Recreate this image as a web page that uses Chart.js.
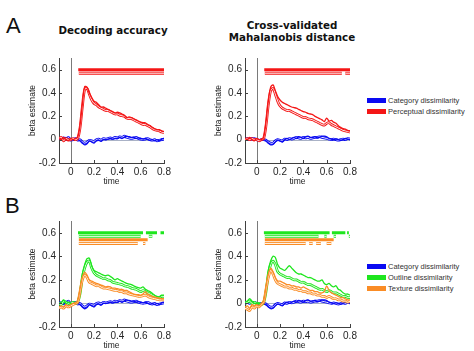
<!DOCTYPE html>
<html>
<head>
<meta charset="utf-8">
<script src="https://cdn.jsdelivr.net/npm/chart.js@4.4.1/dist/chart.umd.min.js"></script>
<style>
  body { margin: 0; background: #fff; }
  #fig { position: relative; width: 474px; height: 351px; overflow: hidden; font-family: "Liberation Sans", Arial, sans-serif; }
  canvas { position: absolute; }
  .letter { position: absolute; font-size: 22px; line-height: 22px; color: #111; }
  .title { position: absolute; font-family: "DejaVu Sans", sans-serif; font-weight: bold; font-size: 10.3px; line-height: 12.4px; text-align: center; color: #111; white-space: nowrap; }
  .legend-row { position: absolute; left: 367px; height: 10px; font-size: 7.5px; line-height: 10px; color: #333; white-space: nowrap; }
  .swatch { display: inline-block; width: 19px; height: 5px; vertical-align: middle; margin-right: 2px; position: relative; top: -1px; }
</style>
</head>
<body>
<div id="fig">
  <div class="letter" style="left:6px; top:14.5px;">A</div>
  <div class="letter" style="left:5px; top:194.7px;">B</div>
  <div class="title" style="left:53px; width:120px; top:24px;">Decoding accuracy</div>
  <div class="title" style="left:222px; width:140px; top:18.5px;">Cross-validated<br>Mahalanobis distance</div>

  <canvas id="decA" width="162" height="142" style="left:14px; top:50px;"></canvas>
  <canvas id="mahA" width="162" height="142" style="left:200px; top:50px;"></canvas>
  <canvas id="decB" width="162" height="138" style="left:14px; top:213px;"></canvas>
  <canvas id="mahB" width="162" height="138" style="left:200px; top:213px;"></canvas>

  <div id="legendA"></div>
  <div id="legendB"></div>
</div>

<script>
// time axis (s) and tick labels
const times = [-0.1, -0.08, -0.06, -0.04, -0.02, 0, 0.02, 0.04, 0.06, 0.08,
  0.1, 0.12, 0.14, 0.16, 0.18, 0.2, 0.22, 0.24, 0.26, 0.28,
  0.3, 0.32, 0.34, 0.36, 0.38, 0.4, 0.42, 0.44, 0.46, 0.48,
  0.5, 0.52, 0.54, 0.56, 0.58, 0.6, 0.62, 0.64, 0.66, 0.68,
  0.7, 0.72, 0.74, 0.76, 0.78, 0.8];
const xTicks = [0, 0.2, 0.4, 0.6, 0.8];
const yTicks = [-0.2, 0, 0.2, 0.4, 0.6];

// A - decoding accuracy
const decPerc1 = [0.01, 0.0, 0.02, 0.0, -0.01, 0.01, 0.0, 0.01, 0.02, 0.12,
  0.3, 0.455, 0.45, 0.40, 0.36, 0.33, 0.32, 0.30, 0.28, 0.28,
  0.27, 0.26, 0.25, 0.24, 0.23, 0.235, 0.23, 0.22, 0.21, 0.19,
  0.195, 0.19, 0.18, 0.17, 0.16, 0.15, 0.145, 0.145, 0.13, 0.12,
  0.105, 0.095, 0.085, 0.085, 0.075, 0.07];
const decPerc2 = [0.01, 0.02, -0.01, 0.01, 0.0, 0.0, 0.01, 0.0, 0.01, 0.1,
  0.28, 0.43, 0.44, 0.39, 0.34, 0.31, 0.30, 0.28, 0.27, 0.26,
  0.25, 0.25, 0.24, 0.23, 0.22, 0.22, 0.21, 0.205, 0.20, 0.185,
  0.18, 0.18, 0.17, 0.16, 0.15, 0.14, 0.13, 0.13, 0.12, 0.11,
  0.095, 0.085, 0.08, 0.075, 0.065, 0.06];
const decCat1 = [0.0, 0.01, -0.01, 0.02, 0.0, -0.01, 0.01, 0.0, 0.0, -0.01,
  -0.03, -0.045, -0.035, -0.01, -0.02, -0.03, -0.01, -0.005, -0.015, 0.0,
  0.0, 0.005, 0.01, 0.005, 0.01, 0.01, 0.02, 0.01, 0.02, 0.03,
  0.025, 0.02, 0.02, 0.01, 0.015, 0.01, 0.005, 0.01, 0.0, -0.005,
  0.0, -0.01, 0.0, -0.01, 0.005, 0.01];
const decCat2 = [0.01, 0.0, 0.015, 0.0, 0.02, 0.0, 0.0, 0.01, -0.005, 0.0,
  -0.02, -0.03, -0.02, -0.005, -0.01, -0.015, 0.0, 0.005, -0.005, 0.01,
  0.005, 0.01, 0.015, 0.01, 0.02, 0.015, 0.025, 0.02, 0.03, 0.02,
  0.015, 0.01, 0.015, 0.02, 0.01, 0.005, 0.0, 0.005, 0.01, 0.0,
  -0.005, 0.0, -0.01, -0.005, 0.0, 0.005];

// A - cross-validated Mahalanobis distance
const mahPerc1 = [0.01, 0.0, 0.02, 0.0, -0.01, 0.01, 0.0, 0.0, 0.02, 0.15,
  0.33, 0.45, 0.47, 0.42, 0.37, 0.34, 0.32, 0.31, 0.30, 0.29,
  0.28, 0.275, 0.27, 0.26, 0.25, 0.24, 0.235, 0.225, 0.22, 0.215,
  0.20, 0.19, 0.18, 0.17, 0.155, 0.185, 0.16, 0.165, 0.15, 0.14,
  0.12, 0.105, 0.095, 0.09, 0.08, 0.075];
const mahPerc2 = [0.0, 0.01, 0.0, 0.01, 0.0, 0.0, -0.01, 0.0, 0.01, 0.12,
  0.3, 0.42, 0.44, 0.39, 0.33, 0.29, 0.27, 0.26, 0.25, 0.25,
  0.24, 0.23, 0.22, 0.21, 0.20, 0.19, 0.19, 0.18, 0.175, 0.17,
  0.16, 0.15, 0.14, 0.13, 0.125, 0.14, 0.145, 0.13, 0.12, 0.11,
  0.10, 0.09, 0.08, 0.075, 0.07, 0.065];
const mahCat1 = [0.01, 0.0, 0.01, 0.015, 0.0, 0.005, 0.0, -0.005, 0.0, -0.01,
  -0.03, -0.045, -0.04, -0.02, -0.005, -0.01, -0.02, 0.0, 0.01, 0.0,
  0.01, 0.02, 0.01, 0.025, 0.02, 0.01, 0.025, 0.03, 0.02, 0.02,
  0.025, 0.015, 0.02, 0.03, 0.03, 0.025, 0.01, 0.005, 0.0, 0.005,
  0.0, -0.005, 0.0, 0.01, 0.005, 0.0];
const mahCat2 = [0.0, 0.01, 0.0, 0.005, 0.01, 0.0, -0.005, 0.0, 0.0, -0.005,
  -0.02, -0.03, -0.03, -0.01, 0.0, -0.005, -0.01, 0.005, 0.0, 0.01,
  0.005, 0.01, 0.02, 0.015, 0.01, 0.02, 0.015, 0.02, 0.01, 0.015,
  0.02, 0.02, 0.025, 0.02, 0.015, 0.01, 0.005, 0.0, 0.005, 0.0,
  -0.005, 0.0, 0.005, 0.0, 0.01, 0.005];

// B - decoding accuracy
const decOut1 = [0.0, 0.01, 0.03, 0.0, 0.01, 0.0, 0.0, 0.01, 0.02, 0.1,
  0.25, 0.33, 0.38, 0.385, 0.32, 0.28, 0.27, 0.26, 0.25, 0.24,
  0.235, 0.24, 0.23, 0.215, 0.2, 0.21, 0.2, 0.19, 0.18, 0.17,
  0.165, 0.16, 0.15, 0.14, 0.135, 0.13, 0.14, 0.12, 0.11, 0.10,
  0.085, 0.07, 0.06, 0.055, 0.07, 0.07];
const decOut2 = [0.0, -0.01, 0.02, 0.01, 0.0, 0.0, 0.01, 0.0, 0.01, 0.08,
  0.22, 0.3, 0.35, 0.36, 0.3, 0.26, 0.24, 0.23, 0.22, 0.21,
  0.21, 0.2, 0.195, 0.18, 0.175, 0.17, 0.165, 0.16, 0.15, 0.145,
  0.14, 0.13, 0.125, 0.12, 0.11, 0.1, 0.11, 0.1, 0.09, 0.08,
  0.07, 0.06, 0.05, 0.05, 0.06, 0.06];
const decTex1 = [-0.03, -0.02, -0.03, -0.01, -0.02, -0.01, 0.0, 0.0, 0.02, 0.12,
  0.22, 0.265, 0.24, 0.2, 0.19, 0.18, 0.17, 0.165, 0.155, 0.15,
  0.14, 0.145, 0.14, 0.13, 0.13, 0.125, 0.12, 0.12, 0.11, 0.11,
  0.1, 0.09, 0.08, 0.075, 0.075, 0.07, 0.08, 0.1, 0.08, 0.07,
  0.06, 0.055, 0.05, 0.045, 0.04, 0.04];
const decTex2 = [-0.04, -0.03, -0.04, -0.02, -0.03, -0.02, -0.01, 0.0, 0.01, 0.1,
  0.2, 0.24, 0.22, 0.18, 0.17, 0.16, 0.15, 0.15, 0.14, 0.13,
  0.13, 0.125, 0.12, 0.115, 0.11, 0.11, 0.1, 0.1, 0.09, 0.09,
  0.08, 0.075, 0.07, 0.065, 0.06, 0.06, 0.065, 0.07, 0.06, 0.05,
  0.045, 0.04, 0.035, 0.03, 0.03, 0.03];

// B - cross-validated Mahalanobis distance
const mahOut1 = [0.01, 0.02, 0.04, 0.02, 0.0, 0.0, 0.0, 0.0, 0.02, 0.12,
  0.28, 0.36, 0.40, 0.39, 0.33, 0.3, 0.29, 0.28, 0.3, 0.32,
  0.3, 0.28, 0.26, 0.25, 0.25, 0.24, 0.23, 0.22, 0.22, 0.21,
  0.2, 0.19, 0.19, 0.2, 0.17, 0.16, 0.17, 0.15, 0.14, 0.15,
  0.12, 0.11, 0.09, 0.08, 0.08, 0.07];
const mahOut2 = [0.0, 0.01, 0.02, 0.0, 0.01, 0.0, 0.0, -0.01, 0.01, 0.1,
  0.25, 0.33, 0.36, 0.33, 0.27, 0.25, 0.24, 0.23, 0.22, 0.22,
  0.21, 0.2, 0.2, 0.19, 0.18, 0.18, 0.17, 0.16, 0.16, 0.15,
  0.14, 0.13, 0.12, 0.12, 0.11, 0.1, 0.11, 0.1, 0.09, 0.09,
  0.08, 0.07, 0.06, 0.06, 0.05, 0.05];
const mahTex1 = [-0.03, -0.02, -0.04, -0.01, -0.02, -0.01, -0.02, 0.0, 0.02, 0.14,
  0.25, 0.3, 0.27, 0.22, 0.19, 0.19, 0.18, 0.17, 0.16, 0.16,
  0.15, 0.15, 0.14, 0.14, 0.13, 0.14, 0.13, 0.12, 0.11, 0.11,
  0.1, 0.1, 0.09, 0.09, 0.1, 0.15, 0.11, 0.09, 0.08, 0.07,
  0.06, 0.05, 0.05, 0.04, 0.03, 0.03];
const mahTex2 = [-0.04, -0.05, -0.06, -0.03, -0.04, -0.02, -0.03, -0.01, 0.01, 0.12,
  0.22, 0.28, 0.25, 0.2, 0.17, 0.16, 0.15, 0.14, 0.14, 0.13,
  0.13, 0.12, 0.12, 0.11, 0.11, 0.1, 0.1, 0.09, 0.09, 0.08,
  0.08, 0.07, 0.07, 0.06, 0.06, 0.05, 0.06, 0.05, 0.04, 0.04,
  0.03, 0.03, 0.02, 0.02, 0.01, 0.02];

// significance bars: [start, end] intervals, drawn at these levels
const sigLevels = [0.6, 0.57, 0.54, 0.51];
const sigDecPerc1 = [[0.065, 0.8]];
const sigDecPerc2 = [[0.07, 0.8]];
const sigMahPerc1 = [[0.065, 0.8]];
const sigMahPerc2 = [[0.07, 0.73], [0.76, 0.8]];
const sigDecOut1 = [[0.063, 0.62], [0.645, 0.74], [0.77, 0.8]];
const sigDecOut2 = [[0.07, 0.6], [0.67, 0.7]];
const sigDecTex1 = [[0.07, 0.66]];
const sigDecTex2 = [[0.07, 0.575], [0.62, 0.64]];
const sigMahOut1 = [[0.062, 0.625], [0.645, 0.76], [0.775, 0.79]];
const sigMahOut2 = [[0.07, 0.53], [0.58, 0.6], [0.66, 0.68], [0.79, 0.8]];
const sigMahTex1 = [[0.07, 0.66]];
const sigMahTex2 = [[0.07, 0.42], [0.45, 0.48], [0.51, 0.55], [0.6, 0.64]];

const legendA = ['Category dissimilarity', 'Perceptual dissimilarity'];
const legendB = ['Category dissimilarity', 'Outline dissimilarity', 'Texture dissimilarity'];

const BLUE = '#0a0af2';
const RED = '#f41616';
const GREEN = '#1ee61e';
const ORANGE = '#fa8c25';

Chart.defaults.font.family = '"Liberation Sans", Arial, sans-serif';

function curve(values, color, hollow) {
    const data = times.map((t, i) => ({ x: t, y: values[i] }));
    const sets = [{ data, borderColor: color, borderWidth: hollow ? 2.7 : 1.3, tension: 0.3 }];
    if (hollow) sets.push({ data, borderColor: '#ffffff', borderWidth: 0.9, tension: 0.3 });
    return sets;
}

function sigBar(intervals, level, color, hollow) {
    const data = [];
    intervals.forEach(([s, e]) => {
        data.push({ x: s, y: level }, { x: e, y: level }, { x: e, y: null });
    });
    const sets = [{ data, borderColor: color, borderWidth: 3, tension: 0, borderCapStyle: 'butt' }];
    if (hollow) sets.push({ data, borderColor: '#ffffff', borderWidth: 1, tension: 0, borderCapStyle: 'butt' });
    return sets;
}

// zero line, stimulus onset line and inward tick marks
const refLines = {
    id: 'refLines',
    beforeDatasetsDraw(chart) {
        const { ctx, chartArea: a, scales: { x, y } } = chart;
        ctx.save();
        ctx.lineWidth = 1;
        const y0 = Math.round(y.getPixelForValue(0)) + 0.5;
        ctx.strokeStyle = '#aab2c6';
        ctx.beginPath(); ctx.moveTo(a.left, y0); ctx.lineTo(a.right, y0); ctx.stroke();
        const x0 = Math.round(x.getPixelForValue(0)) + 0.5;
        ctx.strokeStyle = '#7a7a7a';
        ctx.beginPath(); ctx.moveTo(x0, a.top); ctx.lineTo(x0, a.bottom); ctx.stroke();
        ctx.restore();
    },
    afterDraw(chart) {
        const { ctx, chartArea: a, scales: { x, y } } = chart;
        ctx.save();
        ctx.strokeStyle = '#404040';
        ctx.lineWidth = 1;
        ctx.beginPath();
        x.ticks.forEach(t => {
            const px = Math.round(x.getPixelForValue(t.value)) + 0.5;
            ctx.moveTo(px, a.bottom); ctx.lineTo(px, a.bottom - 3);
        });
        y.ticks.forEach(t => {
            const py = Math.round(y.getPixelForValue(t.value)) + 0.5;
            ctx.moveTo(a.left, py); ctx.lineTo(a.left + 3, py);
        });
        ctx.stroke();
        ctx.restore();
    }
};

function makePanel(id, layers, xHeight, xTitlePad) {
    // layers are listed bottom-first; chart.js draws the first dataset on top
    const datasets = layers.flat().reverse();
    new Chart(document.getElementById(id), {
        type: 'line',
        data: { datasets },
        options: {
            responsive: false,
            animation: false,
            layout: { padding: { top: 8, right: 12, left: 0, bottom: 0 } },
            elements: { point: { radius: 0 }, line: { borderJoinStyle: 'round' } },
            plugins: { legend: { display: false }, tooltip: { enabled: false } },
            scales: {
                x: {
                    type: 'linear',
                    min: -0.1,
                    max: 0.8,
                    afterBuildTicks: s => { s.ticks = xTicks.map(v => ({ value: v })); },
                    afterFit: s => { s.height = xHeight; s.paddingLeft = 0; s.paddingRight = 0; },
                    grid: { display: false, drawTicks: false },
                    border: { color: '#404040' },
                    ticks: { font: { size: 10 }, color: '#262626', padding: 3, maxRotation: 0, callback: v => String(v) },
                    title: { display: true, text: 'time', font: { size: 8.5 }, color: '#222', padding: { top: 0, bottom: xTitlePad } }
                },
                y: {
                    min: -0.2,
                    max: 0.7,
                    afterBuildTicks: s => { s.ticks = yTicks.map(v => ({ value: v })); },
                    afterFit: s => { s.width = 45; s.paddingTop = 0; s.paddingBottom = 0; },
                    grid: { display: false, drawTicks: false },
                    border: { color: '#404040' },
                    ticks: { font: { size: 10 }, color: '#262626', padding: 3, callback: v => String(v) },
                    title: { display: true, text: 'beta estimate', font: { size: 8.5 }, color: '#222', padding: { top: 13.9, bottom: 0 } }
                }
            }
        },
        plugins: [refLines]
    });
}

makePanel('decA', [
    curve(decCat2, BLUE, true), curve(decCat1, BLUE, false),
    curve(decPerc2, RED, true), curve(decPerc1, RED, false),
    sigBar(sigDecPerc1, sigLevels[0], RED, false), sigBar(sigDecPerc2, sigLevels[1], RED, true)
], 29, 4.9);

makePanel('mahA', [
    curve(mahCat2, BLUE, true), curve(mahCat1, BLUE, false),
    curve(mahPerc2, RED, true), curve(mahPerc1, RED, false),
    sigBar(sigMahPerc1, sigLevels[0], RED, false), sigBar(sigMahPerc2, sigLevels[1], RED, true)
], 29, 4.9);

makePanel('decB', [
    curve(decCat2, BLUE, true), curve(decCat1, BLUE, false),
    curve(decOut2, GREEN, true), curve(decOut1, GREEN, false),
    curve(decTex2, ORANGE, true), curve(decTex1, ORANGE, false),
    sigBar(sigDecOut1, sigLevels[0], GREEN, false), sigBar(sigDecOut2, sigLevels[1], GREEN, true),
    sigBar(sigDecTex1, sigLevels[2], ORANGE, false), sigBar(sigDecTex2, sigLevels[3], ORANGE, true)
], 24, 0.4);

makePanel('mahB', [
    curve(mahCat2, BLUE, true), curve(mahCat1, BLUE, false),
    curve(mahOut2, GREEN, true), curve(mahOut1, GREEN, false),
    curve(mahTex2, ORANGE, true), curve(mahTex1, ORANGE, false),
    sigBar(sigMahOut1, sigLevels[0], GREEN, false), sigBar(sigMahOut2, sigLevels[1], GREEN, true),
    sigBar(sigMahTex1, sigLevels[2], ORANGE, false), sigBar(sigMahTex2, sigLevels[3], ORANGE, true)
], 24, 0.4);

function renderLegend(elId, labels, colors, firstRowTop) {
    const el = document.getElementById(elId);
    labels.forEach((label, i) => {
        const row = document.createElement('div');
        row.className = 'legend-row';
        row.style.top = (firstRowTop + i * 11) + 'px';
        const sw = document.createElement('span');
        sw.className = 'swatch';
        sw.style.background = colors[i];
        row.appendChild(sw);
        row.appendChild(document.createTextNode(label));
        el.appendChild(row);
    });
}

renderLegend('legendA', legendA, [BLUE, RED], 96);
renderLegend('legendB', legendB, [BLUE, GREEN, ORANGE], 262.3);
</script>
</body>
</html>
